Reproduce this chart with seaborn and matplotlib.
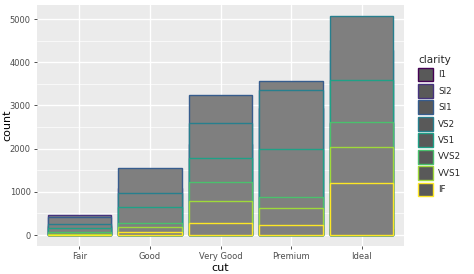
import matplotlib
matplotlib.use("Agg")
import matplotlib.pyplot as plt
from matplotlib.patches import Patch
from matplotlib.ticker import MultipleLocator
import seaborn as sns
import pandas as pd

cuts = ["Fair", "Good", "Very Good", "Premium", "Ideal"]
clarities = ["I1", "SI2", "SI1", "VS2", "VS1", "VVS2", "VVS1", "IF"]
counts = {
    "I1":   [210, 96, 84, 205, 146],
    "SI2":  [466, 1081, 2100, 2949, 2598],
    "SI1":  [408, 1560, 3240, 3575, 4282],
    "VS2":  [261, 978, 2591, 3357, 5071],
    "VS1":  [170, 648, 1775, 1989, 3589],
    "VVS2": [69, 286, 1235, 870, 2606],
    "VVS1": [17, 186, 789, 616, 2047],
    "IF":   [9, 71, 268, 230, 1212],
}
palette = ["#440154", "#46337E", "#365C8D", "#277F8E",
           "#1FA187", "#4AC16D", "#9FDA3A", "#FDE725"]

sns.set_theme(style="darkgrid")
fig = plt.figure(figsize=(4.74, 2.74), dpi=100)
W, H = 474, 274
ax = fig.add_axes([37 / W, (H - 246) / H, (404 - 37) / W, (246 - 5) / H])
ax.set_facecolor("#EBEBEB")

for cl, col in zip(clarities, palette):
    df = pd.DataFrame({"cut": cuts, "count": counts[cl]})
    sns.barplot(data=df, x="cut", y="count", order=cuts, color="#7f7f7f",
                saturation=1, width=0.9, edgecolor=col, linewidth=1.0,
                ax=ax, errorbar=None, zorder=3)

ymax = max(max(v) for v in counts.values())
ax.set_ylim(-0.05 * ymax, 1.05 * ymax)
ax.set_xlim(-0.6, len(cuts) - 0.4)
ax.yaxis.set_major_locator(MultipleLocator(1000))
ax.yaxis.set_minor_locator(MultipleLocator(500))
ax.grid(which="major", color="white", linewidth=1.0, zorder=0)
ax.grid(which="minor", axis="y", color="white", linewidth=0.5, zorder=0)
ax.set_axisbelow(True)
for s in ax.spines.values():
    s.set_visible(False)
ax.tick_params(axis="both", which="major", length=2.5, width=0.6,
               color="#333333", labelcolor="#4D4D4D", labelsize=6, pad=2,
               direction="out", bottom=True, left=True)
ax.tick_params(axis="both", which="minor", length=0)
ax.set_xlabel("cut", fontsize=8, color="black", labelpad=1)
ax.set_ylabel("count", fontsize=8, color="black")
ax.yaxis.set_label_coords(-0.066, 0.5)

handles = [Patch(facecolor="#595959", edgecolor=c, linewidth=1.0, label=l)
           for l, c in zip(clarities, palette)]
leg = fig.legend(handles=handles, title="clarity", loc="upper left",
                 bbox_to_anchor=(418 / W, 1 - 55 / H), frameon=False,
                 fontsize=6.3, title_fontsize=7.5, handlelength=1.7,
                 handleheight=2.05, labelspacing=0.3, handletextpad=0.6,
                 borderaxespad=0, borderpad=0)
leg._legend_box.align = "left"

fig.savefig("out.png", dpi=100)
